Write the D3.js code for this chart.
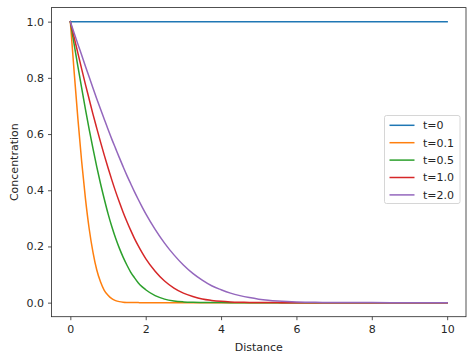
<!DOCTYPE html>
<html>
<head>
<meta charset="utf-8">
<script src="https://cdn.jsdelivr.net/npm/d3@7"></script>
<style>
html,body{margin:0;padding:0;background:#fff;}
svg{display:block;}
text{font-family:"DejaVu Sans",sans-serif;fill:#262626;}
</style>
</head>
<body>
<svg id="chart" width="474" height="361"></svg>
<script>
// ---- data ----
const distance = [0,0.1,0.2,0.3,0.4,0.5,0.6,0.7,0.8,0.9,1.0,1.1,1.2,1.3,1.4,1.5,1.6,1.7,1.8,1.9,2.0,
  2.25,2.5,2.75,3.0,3.25,3.5,3.75,4.0,4.25,4.5,4.75,5.0,5.25,5.5,5.75,6.0,
  6.5,7.0,7.5,8.0,8.5,9.0,9.5,10.0];
const seriesNames = ["t=0","t=0.1","t=0.5","t=1.0","t=2.0"];
const c_t0 = [1,1,1,1,1,1,1,1,1,1,1,1,1,1,1,1,1,1,1,1,1,1,1,1,1,1,1,1,1,1,1,1,1,1,1,1,1,1,1,1,1,1,1,1,1];
const c_t01 = [1,0.823,0.655,0.503,0.371,0.263,0.180,0.117,0.074,0.044,0.026,0.014,0.0073,0.0037,0.0017,0.0008,0.0004,0.0002,0.0001,0,0,
  0,0,0,0,0,0,0,0,0,0,0,0,0,0,0,0, 0,0,0,0,0,0,0,0];
const c_t05 = [1,0.920,0.841,0.764,0.689,0.617,0.549,0.484,0.424,0.369,0.317,0.271,0.230,0.194,0.162,0.134,0.109,0.089,0.071,0.057,0.046,
  0.025,0.0125,0.0059,0.0027,0.0011,0.0005,0.0002,0.0001,0,0,0,0,0,0,0,0, 0,0,0,0,0,0,0,0];
const c_t10 = [1,0.944,0.888,0.832,0.777,0.724,0.671,0.621,0.572,0.525,0.480,0.437,0.396,0.358,0.322,0.289,0.258,0.229,0.203,0.179,0.157,
  0.112,0.077,0.052,0.034,0.022,0.013,0.008,0.0047,0.0027,0.0015,0.0008,0.0004,0.0002,0.0001,0,0, 0,0,0,0,0,0,0,0];
const c_t20 = [1,0.960,0.920,0.881,0.841,0.803,0.764,0.726,0.689,0.653,0.617,0.582,0.549,0.516,0.484,0.453,0.424,0.395,0.368,0.342,0.317,
  0.261,0.212,0.170,0.134,0.104,0.080,0.060,0.046,0.034,0.025,0.018,0.0125,0.0086,0.0059,0.0040,0.0027,
  0.0011,0.0005,0.0002,0.0001,0,0,0,0];
const xTicks = [0,2,4,6,8,10];
const yTicks = [0.0,0.2,0.4,0.6,0.8,1.0];
const colors = ["#1f77b4","#ff7f0e","#2ca02c","#d62728","#9467bd"];

const seriesValues = [c_t0,c_t01,c_t05,c_t10,c_t20];

// ---- layout ----
const svg = d3.select("#chart");
const L = 51.5, R = 466, T = 7.6, B = 316.7;
const x = d3.scaleLinear().domain([-0.5,10.5]).range([L,R]);
const y = d3.scaleLinear().domain([-0.05,1.05]).range([B,T]);

const line = d3.line().x(d=>x(d[0])).y(d=>y(d[1])).curve(d3.curveMonotoneX);

const g = svg.append("g");
seriesValues.forEach((vals,i)=>{
  g.append("path")
    .datum(distance.map((d,j)=>[d,vals[j]]))
    .attr("fill","none")
    .attr("stroke",colors[i])
    .attr("stroke-width",1.5)
    .attr("stroke-linejoin","round")
    .attr("stroke-linecap","square")
    .attr("d",line);
});

// axes
const xAxis = d3.axisBottom(x).tickValues(xTicks).tickFormat(d3.format("d")).tickSizeOuter(0).tickSize(3.5).tickPadding(5);
const yAxis = d3.axisLeft(y).tickValues(yTicks).tickFormat(d3.format(".1f")).tickSizeOuter(0).tickSize(3.5).tickPadding(4);
const gx = svg.append("g").attr("transform",`translate(0,${B})`).call(xAxis);
const gy = svg.append("g").attr("transform",`translate(${L},0)`).call(yAxis);
[gx,gy].forEach(a=>{
  a.select(".domain").remove();
  a.selectAll(".tick line").attr("stroke","#262626").attr("stroke-width",0.8);
  a.selectAll(".tick text").attr("font-size","11px").attr("font-family","DejaVu Sans").attr("fill","#262626");
});

// frame
svg.append("rect").attr("x",L).attr("y",T).attr("width",R-L).attr("height",B-T)
  .attr("fill","none").attr("stroke","#262626").attr("stroke-width",0.8);

// axis labels
svg.append("text").attr("x",(L+R)/2).attr("y",351).attr("text-anchor","middle")
  .attr("font-size","11px").text("Distance");
svg.append("text").attr("transform",`translate(18,${(T+B)/2}) rotate(-90)`).attr("text-anchor","middle")
  .attr("font-size","11px").text("Concentration");

// legend
const lg = svg.append("g");
lg.append("rect").attr("x",384.5).attr("y",115.5).attr("width",75.5).attr("height",88).attr("rx",2)
  .attr("fill","#fff").attr("fill-opacity",0.8).attr("stroke","#cccccc").attr("stroke-width",0.8);
seriesNames.forEach((n,i)=>{
  const yy = 125.3 + i*17.4;
  lg.append("line").attr("x1",389.5).attr("x2",414.5).attr("y1",yy).attr("y2",yy)
    .attr("stroke",colors[i]).attr("stroke-width",1.5);
  lg.append("text").attr("x",423).attr("y",yy).attr("dy","0.36em").attr("font-size","11px").text(n);
});
</script>
</body>
</html>
